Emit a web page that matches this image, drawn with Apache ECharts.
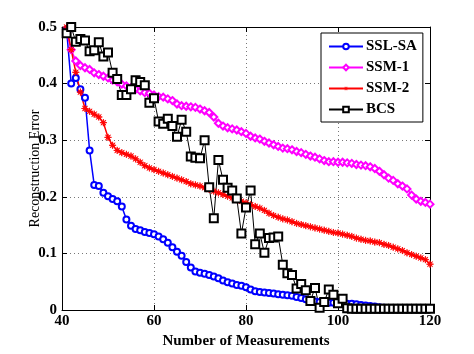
<!DOCTYPE html>
<html>
<head>
<meta charset="utf-8">
<script src="https://cdn.jsdelivr.net/npm/echarts@6/dist/echarts.min.js"></script>
<style>
  html, body { margin: 0; padding: 0; background: #fff; }
  #chart { width: 474px; height: 354px; }
</style>
</head>
<body>
<div id="chart"></div>
<script>
// measurements 41..120
var firstMeasurement = 41;
var xTicks = [40, 60, 80, 100, 120];
var yTicks = [0, 0.1, 0.2, 0.3, 0.4, 0.5];
var seriesNames = ['SSL-SA', 'SSM-1', 'SSM-2', 'BCS'];

var sslSa = [
  0.495, 0.400, 0.410, 0.390, 0.375, 0.282, 0.221, 0.219, 0.207, 0.201,
  0.196, 0.192, 0.183, 0.160, 0.149, 0.143, 0.141, 0.138, 0.136, 0.134,
  0.130, 0.125, 0.119, 0.111, 0.103, 0.096, 0.085, 0.075, 0.068, 0.066,
  0.064, 0.062, 0.059, 0.056, 0.052, 0.049, 0.047, 0.044, 0.043, 0.040,
  0.036, 0.033, 0.032, 0.031, 0.030, 0.029, 0.028, 0.027, 0.026, 0.025,
  0.023, 0.021, 0.019, 0.017, 0.015, 0.014, 0.014, 0.013, 0.013, 0.012,
  0.012, 0.011, 0.011, 0.010, 0.009, 0.008, 0.007, 0.006, 0.005, 0.004,
  0.003, 0.003, 0.002, 0.002, 0.002, 0.002, 0.002, 0.002, 0.002, 0.002
];
var ssm1 = [
  0.490, 0.460, 0.440, 0.432, 0.428, 0.425, 0.419, 0.416, 0.413, 0.410,
  0.406, 0.403, 0.399, 0.396, 0.393, 0.390, 0.387, 0.384, 0.383, 0.380,
  0.377, 0.376, 0.373, 0.370, 0.364, 0.361, 0.360, 0.359, 0.358, 0.355,
  0.352, 0.349, 0.341, 0.330, 0.325, 0.322, 0.320, 0.318, 0.315, 0.312,
  0.307, 0.304, 0.302, 0.298, 0.295, 0.292, 0.289, 0.286, 0.285, 0.283,
  0.280, 0.278, 0.275, 0.272, 0.270, 0.267, 0.264, 0.262, 0.262, 0.261,
  0.261, 0.260, 0.259, 0.257, 0.256, 0.255, 0.253, 0.250, 0.245, 0.239,
  0.233, 0.229, 0.223, 0.219, 0.214, 0.203, 0.196, 0.192, 0.190, 0.187
];
var ssm2 = [
  0.500, 0.460, 0.420, 0.385, 0.356, 0.351, 0.346, 0.341, 0.331, 0.305,
  0.291, 0.282, 0.278, 0.275, 0.272, 0.267, 0.261, 0.255, 0.251, 0.248,
  0.245, 0.242, 0.239, 0.236, 0.233, 0.230, 0.227, 0.223, 0.221, 0.219,
  0.216, 0.213, 0.210, 0.207, 0.204, 0.201, 0.198, 0.195, 0.192, 0.189,
  0.186, 0.183, 0.180, 0.176, 0.171, 0.167, 0.164, 0.161, 0.159, 0.156,
  0.153, 0.151, 0.149, 0.147, 0.145, 0.143, 0.141, 0.139, 0.137, 0.136,
  0.134, 0.132, 0.130, 0.127, 0.125, 0.123, 0.122, 0.120, 0.119, 0.116,
  0.114, 0.111, 0.108, 0.105, 0.101, 0.098, 0.095, 0.092, 0.089, 0.081
];
var bcs = [
  0.489, 0.500, 0.474, 0.479, 0.476, 0.457, 0.459, 0.473, 0.448, 0.455,
  0.419, 0.408, 0.380, 0.380, 0.390, 0.406, 0.403, 0.397, 0.366, 0.374,
  0.333, 0.329, 0.338, 0.325, 0.306, 0.336, 0.315, 0.271, 0.269, 0.268,
  0.300, 0.217, 0.162, 0.265, 0.230, 0.216, 0.211, 0.197, 0.135, 0.181,
  0.211, 0.116, 0.135, 0.101, 0.127, 0.128, 0.130, 0.080, 0.065, 0.062,
  0.038, 0.046, 0.035, 0.016, 0.039, 0.004, 0.014, 0.036, 0.027, 0.012,
  0.020, 0.003, 0.002, 0.002, 0.002, 0.002, 0.002, 0.002, 0.002, 0.002,
  0.002, 0.002, 0.002, 0.002, 0.002, 0.002, 0.002, 0.002, 0.002, 0.002
];

function pairs(vals) {
  return vals.map(function (v, i) { return [firstMeasurement + i, v]; });
}

// asterisk-like marker (matlab '*'), drawn in a 0..20 box
function starPath() {
  var p = [];
  for (var i = 0; i < 16; i++) {
    var a = i * Math.PI / 8;
    var r = i % 2 === 0 ? 10 : 3;
    p.push((i === 0 ? 'M' : 'L') + (10 + r * Math.sin(a)).toFixed(2) + ',' + (10 - r * Math.cos(a)).toFixed(2));
  }
  return 'path://' + p.join(' ') + ' Z';
}
var starSymbol = starPath();

var font = '"Liberation Serif", "Times New Roman", serif';
var myChart = echarts.init(document.getElementById('chart'));

var axisCommon = {
  axisLine: { show: true, onZero: false, lineStyle: { color: '#000', width: 1 } },
  axisTick: { show: true, inside: true, length: 5, lineStyle: { color: '#000' } }
};

var option = {
  backgroundColor: '#fff',
  animation: false,
  textStyle: { fontFamily: font },
  grid: { left: 62, right: 44, top: 27, bottom: 40 },
  legend: {
    orient: 'vertical',
    left: 321,
    top: 33,
    padding: [6, 6, 5, 7],
    itemWidth: 34,
    itemHeight: 7,
    itemGap: 6,
    backgroundColor: '#fff',
    borderColor: '#000',
    borderWidth: 1,
    textStyle: { fontFamily: font, fontWeight: 'bold', fontSize: 15, color: '#000', padding: [0, 0, 0, -2] },
    data: [
      { name: 'SSL-SA' },
      { name: 'SSM-1' },
      { name: 'SSM-2', itemStyle: { borderWidth: 0 } },
      { name: 'BCS' }
    ]
  },
  xAxis: [
    Object.assign({
      type: 'value', min: 40, max: 120, interval: 20,
      name: 'Number of Measurements',
      nameLocation: 'middle', nameGap: 24,
      nameTextStyle: { fontFamily: font, fontWeight: 'bold', fontSize: 15, color: '#000' },
      axisLabel: {
        fontFamily: font, fontWeight: 'bold', fontSize: 15, color: '#000', margin: 4,
        formatter: function (v) { return xTicks.indexOf(v) >= 0 ? String(v) : ''; }
      },
      splitLine: { show: true, lineStyle: { color: '#777', type: [1, 3], width: 1 } }
    }, axisCommon),
    Object.assign({
      type: 'value', position: 'top', min: 40, max: 120, interval: 20,
      axisLabel: { show: false }, splitLine: { show: false }
    }, axisCommon)
  ],
  yAxis: [
    Object.assign({
      type: 'value', min: 0, max: 0.5, interval: 0.1,
      name: 'Reconstruction Error',
      nameLocation: 'middle', nameGap: 20, nameMoveOverlap: false,
      nameTextStyle: { fontFamily: font, fontSize: 14, color: '#000' },
      axisLabel: {
        fontFamily: font, fontWeight: 'bold', fontSize: 15, color: '#000', margin: 5,
        formatter: function (v) {
          var t = yTicks.filter(function (k) { return Math.abs(k - v) < 1e-9; });
          return t.length ? (t[0] === 0 ? '0' : t[0].toFixed(1)) : '';
        }
      },
      splitLine: { show: true, lineStyle: { color: '#777', type: [1, 3], width: 1 } }
    }, axisCommon),
    Object.assign({
      type: 'value', position: 'right', min: 0, max: 0.5, interval: 0.1,
      axisLabel: { show: false }, splitLine: { show: false }
    }, axisCommon)
  ],
  series: [
    {
      name: 'SSL-SA', type: 'line', data: pairs(sslSa),
      symbol: 'emptyCircle', symbolSize: 6, showAllSymbol: true,
      lineStyle: { color: '#0000ff', width: 1.5 },
      itemStyle: { color: '#0000ff', borderColor: '#0000ff', borderWidth: 1.2 }
    },
    {
      name: 'SSM-1', type: 'line', data: pairs(ssm1),
      symbol: 'emptyDiamond', symbolSize: 7, showAllSymbol: true,
      lineStyle: { color: '#ff00ff', width: 1.5 },
      itemStyle: { color: '#ff00ff', borderColor: '#ff00ff', borderWidth: 1.2 }
    },
    {
      name: 'SSM-2', type: 'line', data: pairs(ssm2),
      symbol: starSymbol, symbolSize: 7, showAllSymbol: true,
      lineStyle: { color: '#ff0000', width: 1.5 },
      itemStyle: { color: '#ff0000', borderColor: '#ff0000', borderWidth: 0.8 }
    },
    {
      name: 'BCS', type: 'line', data: pairs(bcs),
      symbol: 'emptyRect', symbolSize: 8, showAllSymbol: true,
      lineStyle: { color: '#000', width: 1 },
      itemStyle: { color: '#000', borderColor: '#000', borderWidth: 1.2 }
    }
  ]
};

myChart.setOption(option);
window.addEventListener('resize', function () {
  myChart.resize();
});
</script>
</body>
</html>
